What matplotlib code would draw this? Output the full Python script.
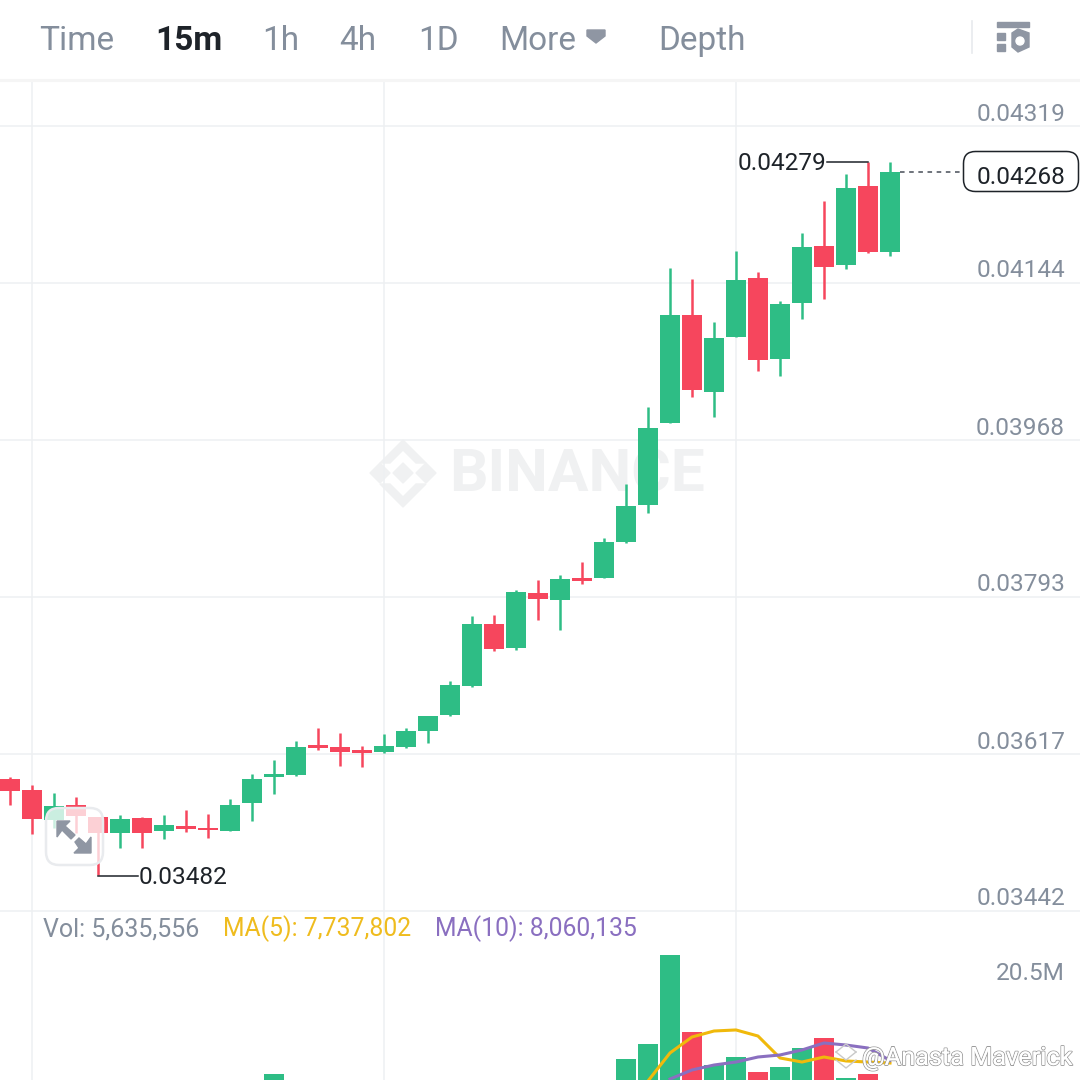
import matplotlib
matplotlib.use("Agg")
import matplotlib.pyplot as plt
import matplotlib.patheffects as pe
from matplotlib.patches import FancyBboxPatch, Polygon, Rectangle, Circle

plt.rcParams['font.family'] = ['Roboto', 'DejaVu Sans']

# Candles, prices in units of 1e-5
opens = [3589,3577,3544,3560,3547,3529,3546,3531,3537,3535,3531,3563,3592,3594,3627,3625,3622,3620,3625,3643,3661,3693,3763,3736,3797,3789,3814,3814,3854,3896,3987,4108,4022,4083,4149,4059,4121,4185,4164,4252,4178]
highs = [3592,3583,3574,3569,3547,3549,3547,3549,3555,3550,3567,3595,3611,3632,3646,3641,3626,3640,3646,3660,3699,3772,3773,3801,3812,3817,3832,3859,3919,4005,4160,4148,4100,4179,4156,4123,4199,4235,4265,4279,4279]
lows  = [3560,3528,3535,3529,3482,3512,3512,3522,3530,3524,3531,3542,3573,3593,3622,3604,3603,3619,3624,3630,3660,3692,3732,3734,3767,3756,3807,3814,3853,3887,3987,4016,3994,4083,4045,4040,4103,4126,4159,4177,4174]
closes= [3576,3545,3559,3548,3529,3545,3529,3538,3534,3532,3560,3589,3595,3625,3624,3620,3619,3626,3643,3660,3695,3763,3735,3798,3791,3813,3811,3854,3895,3982,4108,4024,4082,4147,4058,4120,4184,4161,4250,4178,4268]
price_ticks = [0.04319, 0.04144, 0.03968, 0.03793, 0.03617, 0.03442]
session_marks = [1, 17, 33]

# Volume, millions
vol_idx = [12, 28, 29, 30, 31, 32, 33, 34, 35, 36, 37, 38, 39, 40]
vol_vals = [6.38, 8.23, 10.09, 21.08, 11.57, 7.49, 8.48, 6.63, 7.25, 9.59, 10.83, 5.89, 6.38, 5.635556]
ma5_idx = list(range(29, 41))
ma5_vals = [5.52, 8.98, 10.95, 11.69, 11.82, 11.07, 8.36, 7.86, 8.48, 7.99, 7.86, 7.737802]
ma10_idx = list(range(30, 41))
ma10_vals = [5.76, 6.88, 7.49, 7.86, 8.48, 8.73, 9.35, 10.21, 9.96, 9.59, 8.060135]

tabs = [("Time", 39, False), ("15m", 155, True), ("1h", 262, False), ("4h", 339, False),
        ("1D", 418, False), ("More", 499, False), ("Depth", 658, False)]

GREEN, RED = "#2EBD85", "#F6465D"
GREY, DARK = "#848E9C", "#1E2329"
GRID = "#EEF0F2"
PX = 22.0
H = 1080.0
scale = 1e-5

fig = plt.figure(figsize=(10.8, 10.8), dpi=100, facecolor="white")

# Background layer: the chart watermark sits under the candles
bg = fig.add_axes([0, 0, 1, 1], zorder=-1)
bg.set_xlim(0, H)
bg.set_ylim(H, 0)
bg.axis("off")
wm = "#F0F1F2"
bg.text(449, 475, "BINANCE", fontsize=43.5, fontweight="bold", color=wm, ha="left", va="center")
for cx, cy, r in [(403, 473, 10), (380, 473, 10), (426, 473, 10)]:
    bg.add_patch(Polygon([(cx - r, cy), (cx, cy - r), (cx + r, cy), (cx, cy + r)], color=wm))
bg.add_patch(Polygon([(403, 440), (426, 463), (416, 463), (403, 450), (390, 463), (380, 463)], color=wm))
bg.add_patch(Polygon([(403, 507), (426, 484), (416, 484), (403, 497), (390, 484), (380, 484)], color=wm))

ax = fig.add_axes([0, (H - 911) / H, 1, (911 - 80) / H])
vax = fig.add_axes([0, 0, 1, (H - 911) / H])
xlim = (-10 / PX, 1070 / PX)

for a in (ax, vax):
    a.set_xlim(*xlim)
    a.axis("off")
    for s in session_marks:
        a.axvline(s, color=GRID, lw=1.1, zorder=0)

ax.set_ylim(0.03442, 0.043704)
vax.set_ylim(5.64, 26.51)

for t in price_ticks:
    ax.axhline(t, color=GRID, lw=1.1, zorder=0, clip_on=False)
    ax.annotate(f"{t:.5f}", xy=(1065 / H, t), xycoords=("figure fraction", "data"),
                xytext=(0, 12 * 0.72), textcoords="offset points", ha="right", va="center",
                fontsize=17.6, color=GREY)

for i in range(len(opens)):
    up = closes[i] >= opens[i]
    c = GREEN if up else RED
    ax.vlines(i, lows[i] * scale, highs[i] * scale, color=c, lw=1.8, zorder=2)
    lo, hi = min(opens[i], closes[i]), max(opens[i], closes[i])
    ax.bar(i, (hi - lo) * scale, bottom=lo * scale, width=19.4 / PX, color=c, zorder=3)

for i, v in zip(vol_idx, vol_vals):
    c = GREEN if closes[i] >= opens[i] else RED
    vax.bar(i, v, width=19.4 / PX, color=c, zorder=2)
vax.plot(ma5_idx, ma5_vals, color="#F0B90B", lw=2.2, zorder=3, solid_joinstyle="round")
vax.plot(ma10_idx, ma10_vals, color="#8A6FC0", lw=2.2, zorder=3, solid_joinstyle="round")

# Pixel-space overlay for the app furniture
ov = fig.add_axes([0, 0, 1, 1], zorder=10)
ov.set_xlim(0, H)
ov.set_ylim(H, 0)
ov.axis("off")
ov.patch.set_alpha(0)

# Header
ov.plot([0, H], [79.5, 79.5], color="#F5F5F5", lw=2.2)
for label, x, bold in tabs:
    ov.text(x, 41, label, fontsize=24, color=DARK if bold else GREY,
            fontweight="bold" if bold else "normal", ha="left", va="center")
ov.add_patch(Polygon([(587, 30), (605, 30), (605, 36), (596, 43), (587, 36)], color="#8F96A3"))
ov.plot([972, 972], [21, 53], color="#E8EAED", lw=1.2)
ov.add_patch(Rectangle((997, 22), 32, 5, color="#8F96A3"))
ov.add_patch(Rectangle((997, 33), 8, 7, color="#8F96A3"))
ov.add_patch(Rectangle((997, 44), 8, 7, color="#8F96A3"))
ov.add_patch(Polygon([(1012, 33), (1018, 29), (1029, 33), (1029, 47), (1018, 52), (1012, 47)], color="#8F96A3"))
ov.add_patch(Circle((1020, 41), 4, color="white"))

# High / low / current labels
ov.plot([98, 138], [875.5, 875.5], color=DARK, lw=1.1)
ov.text(139, 878, "0.03482", fontsize=17.6, color=DARK, ha="left", va="center")
ov.plot([827, 868], [162, 162], color=DARK, lw=1.1)
ov.text(826, 164, "0.04279", fontsize=17.6, color=DARK, ha="right", va="center")
ov.plot([900, 962], [172, 172], color="#474D57", lw=1.1, dashes=(3, 3))
ov.add_patch(FancyBboxPatch((963.5, 151.5), 115, 40, boxstyle="round,pad=0,rounding_size=12",
                            fc="white", ec=DARK, lw=1.1))
ov.text(1065, 177, "0.04268", fontsize=17.6, color=DARK, ha="right", va="center")

# Expand button
ov.add_patch(FancyBboxPatch((46, 808), 57, 57, boxstyle="round,pad=0,rounding_size=13",
                            fc=(1, 1, 1, 0.75), ec="#E9EBEE", lw=1.8))
ag = "#8F96A3"
ov.add_patch(Polygon([(57, 821), (70, 821), (65, 826), (75, 835), (71, 839), (62, 830), (57, 837)], color=ag))
ov.add_patch(Polygon([(91, 853), (74, 853), (79, 848), (75, 842), (79, 838), (86, 844), (91, 837)], color=ag))

# Volume legend
ov.text(43, 929, "Vol: 5,635,556", fontsize=18, color=GREY, ha="left", va="center")
ov.text(223, 929, "MA(5): 7,737,802", fontsize=17.8, color="#EFBC1E", ha="left", va="center")
ov.text(435, 929, "MA(10): 8,060,135", fontsize=17.8, color="#8A6FC0", ha="left", va="center")
ov.text(1065, 973, "20.5M", fontsize=17.6, color=GREY, ha="right", va="center")

# Author watermark
ov.text(862, 1058, "@Anasta Maverick", fontsize=18.2, color="white", ha="left", va="center",
        path_effects=[pe.withStroke(linewidth=1.3, foreground="#9C9C9C"), pe.Normal()])
for cy in (1052, 1060):
    ov.plot([836, 846, 856], [cy, cy + 8, cy], color="#C9C9C9", lw=1)
ov.plot([836, 846, 856], [1052, 1044, 1052], color="#C9C9C9", lw=1)

fig.savefig("out.png", dpi=100)
